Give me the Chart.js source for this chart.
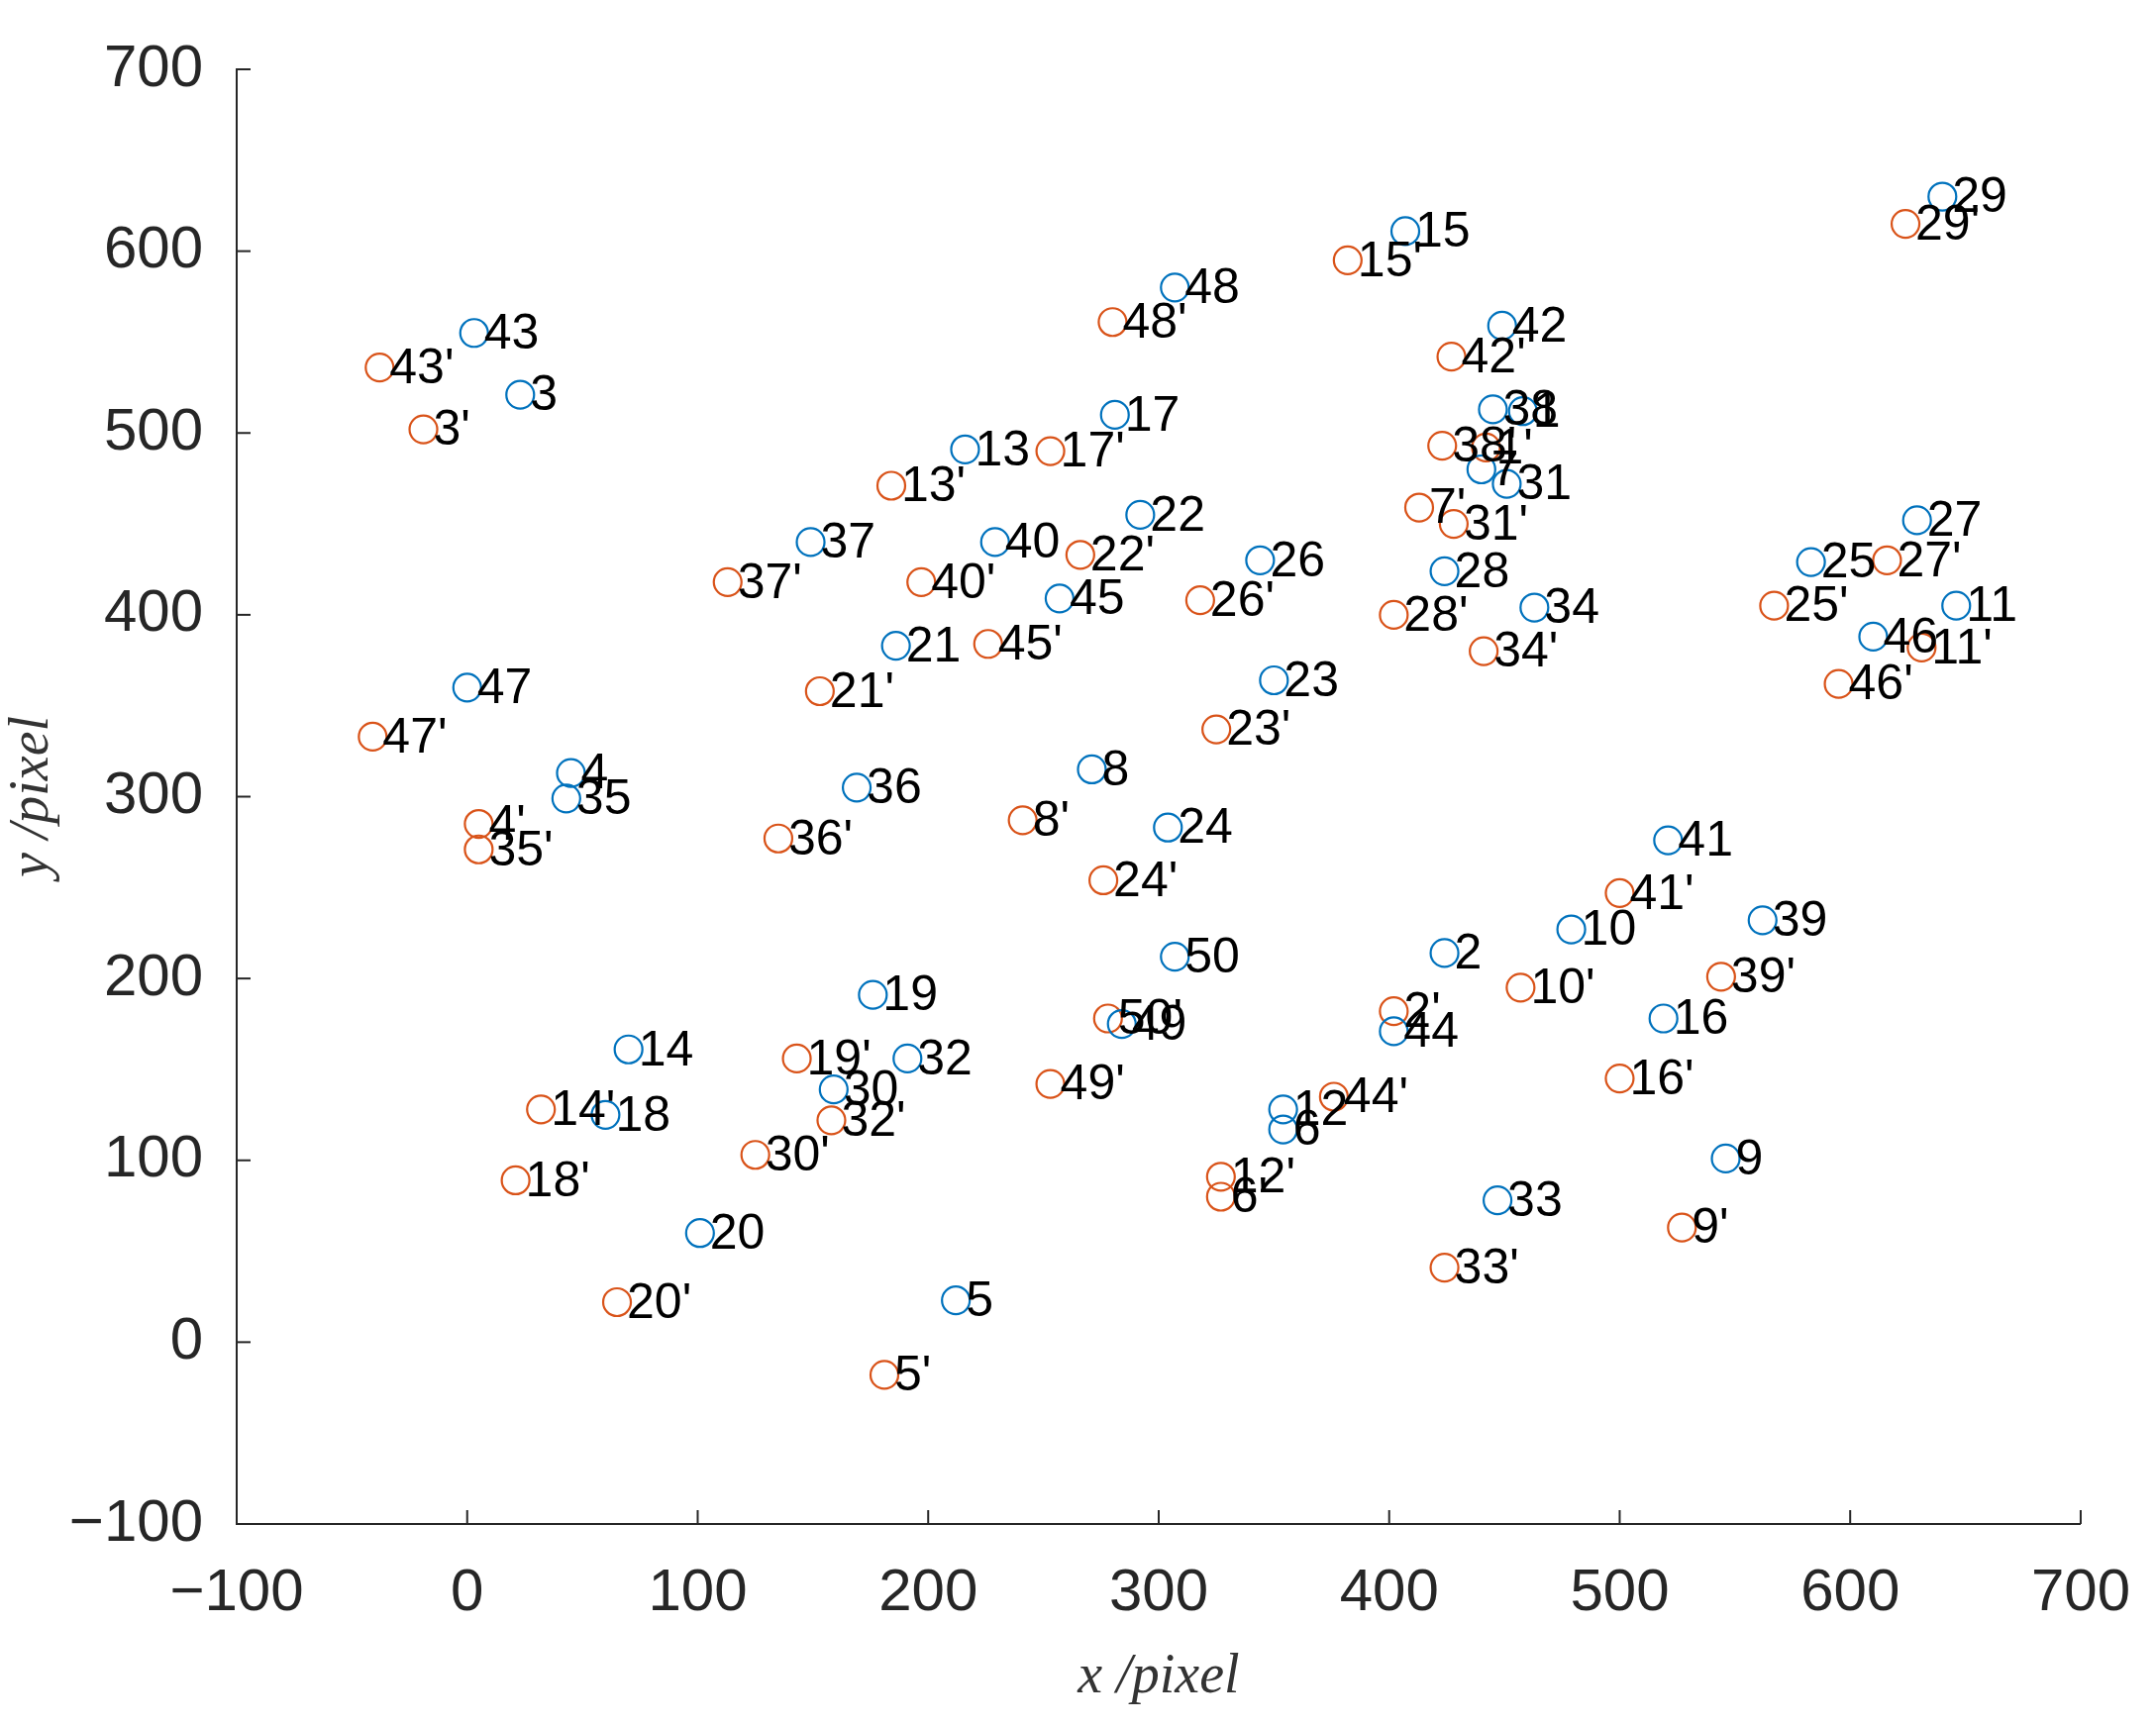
<!DOCTYPE html>
<html><head><meta charset="utf-8">
<script src="https://cdn.jsdelivr.net/npm/chart.js@4"></script>
<style>html,body{margin:0;padding:0;background:#fff}#w{width:2177px;height:1744px}</style>
</head><body><div id="w"><canvas id="c"></canvas></div>
<script>
const blueLabels=[];for(let i=1;i<=50;i++)blueLabels.push(String(i));
const orangeLabels=blueLabels.map(s=>s+"'");
const blueX=[458,424,23,45,212,354,440,271,546,479,646,354,216,70,407,519,281,60,176,101,186,292,350,304,583,344,629,424,640,159,451,191,447,463,43,169,149,445,562,229,521,449,3,402,257,610,0,307,284,307];
const blueY=[512,214,521,313,23,117,480,315,101,227,405,128,491,161,611,178,510,125,191,60,383,455,364,283,429,430,452,424,630,139,472,156,78,404,299,305,440,513,232,440,276,559,555,171,409,388,360,580,175,212];
const orangeX=[442,402,-19,5,181,327,413,241,527,457,631,327,184,32,382,500,253,21,143,65,153,266,325,276,567,318,616,402,624,125,428,158,424,441,5,135,113,423,544,197,500,427,-38,376,226,595,-41,280,253,278];
const orangeY=[492,182,502,285,-18,80,459,287,63,195,382,91,471,128,595,145,490,89,156,22,358,433,337,254,405,408,430,400,615,103,450,122,41,380,271,277,418,493,201,418,247,542,536,135,384,362,333,561,142,178];
const xTicks=[-100,0,100,200,300,400,500,600,700];
const yTicks=[-100,0,100,200,300,400,500,600,700];
const BLUE='#0072BD',ORANGE='#D95319';
const mk=(xs,ys)=>xs.map((x,i)=>({x,y:ys[i]}));
const labelPlugin={id:'lbl',afterDatasetsDraw(ch){
  const ctx=ch.ctx,xs=ch.scales.x,ys=ch.scales.y;
  ctx.save();ctx.fillStyle='#000';ctx.font='50px "Liberation Sans",Arial';ctx.textBaseline='middle';ctx.textAlign='left';
  [[blueX,blueY,blueLabels],[orangeX,orangeY,orangeLabels]].forEach(([X,Y,L])=>{
    X.forEach((x,i)=>ctx.fillText(L[i],xs.getPixelForValue(x)+10,ys.getPixelForValue(Y[i])+2));
  });
  ctx.strokeStyle='#262626';ctx.lineWidth=2;const a=ch.chartArea;
  xTicks.forEach(t=>{const p=xs.getPixelForValue(t);ctx.beginPath();ctx.moveTo(p,a.bottom);ctx.lineTo(p,a.bottom-14);ctx.stroke();});
  yTicks.forEach(t=>{const p=ys.getPixelForValue(t);ctx.beginPath();ctx.moveTo(a.left,p);ctx.lineTo(a.left+14,p);ctx.stroke();});
  ctx.restore();
}};
const tickFont={family:'"Liberation Sans",Arial',size:60};
const titleFont={family:'"Liberation Serif","Times New Roman"',size:56,style:'italic'};
new Chart(document.getElementById('c'),{
  type:'scatter',
  data:{datasets:[
    {data:mk(blueX,blueY),borderColor:BLUE,backgroundColor:'rgba(0,0,0,0)',pointRadius:14,borderWidth:2.2,pointHoverRadius:14},
    {data:mk(orangeX,orangeY),borderColor:ORANGE,backgroundColor:'rgba(0,0,0,0)',pointRadius:14,borderWidth:2.2,pointHoverRadius:14}
  ]},
  options:{responsive:true,maintainAspectRatio:false,animation:false,events:[],
    layout:{padding:{top:70,right:60,left:0,bottom:0}},
    plugins:{legend:{display:false},tooltip:{enabled:false}},
    scales:{
      x:{type:'linear',min:-100,max:700,afterBuildTicks:s=>{s.ticks=xTicks.map(v=>({value:v}))},
        afterFit:s=>{s.height=205},
        grid:{display:false},border:{display:true,color:'#262626',width:2},
        ticks:{font:tickFont,color:'#262626',padding:26,maxRotation:0,callback:v=>String(v).replace('-','\u2212')},
        title:{display:true,text:'x /pixel',font:titleFont,color:'#333',padding:{top:0,bottom:16}}},
      y:{type:'linear',min:-100,max:700,afterBuildTicks:s=>{s.ticks=yTicks.map(v=>({value:v}))},
        afterFit:s=>{s.width=239},
        grid:{display:false},border:{display:true,color:'#262626',width:2},
        ticks:{font:tickFont,color:'#262626',padding:26,callback:v=>String(v).replace('-','\u2212')},
        title:{display:true,text:'y /pixel',font:titleFont,color:'#333',padding:{top:0,bottom:24}}}
    }},
  plugins:[labelPlugin]
});
</script></body></html>
